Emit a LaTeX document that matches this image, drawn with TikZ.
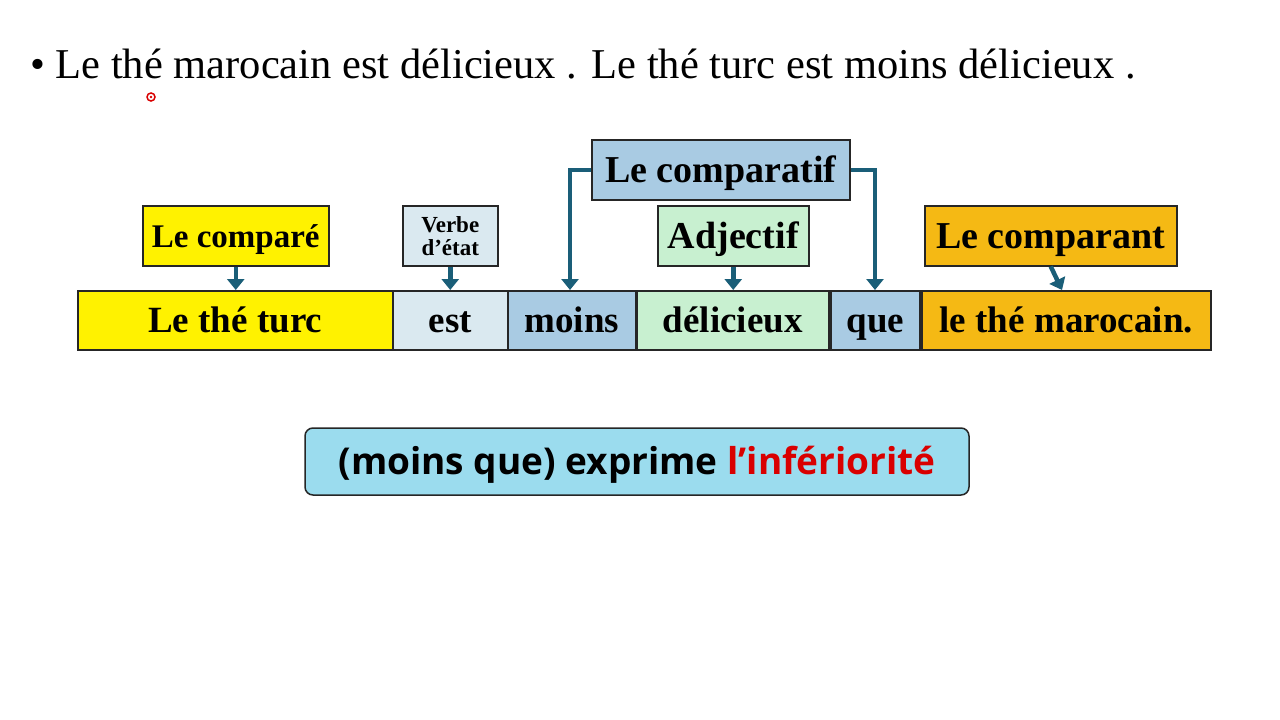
\documentclass[tikz,border=0pt]{standalone}
\usepackage{fontspec}
\setmainfont{Liberation Serif}
\newfontfamily\sansb{Open Sans}
\usetikzlibrary{arrows.meta}
\begin{document}
\begin{tikzpicture}[x=1pt,y=-1pt,
  bx/.style={draw=black!85,line width=1.5pt,inner sep=0pt,anchor=north west},
  lb/.style={anchor=base,inner sep=0pt,yshift=-12.5pt},
  arr/.style={draw={rgb,255:red,26;green,94;blue,120},line width=4.5pt,-{Triangle[length=11pt,width=17pt]}}]
\useasboundingbox (0,0) rectangle (1280,720);
\fill[white] (0,0) rectangle (1280,720);
\node[anchor=base west,font=\fontsize{42.5}{48}\selectfont,inner sep=0] (t) at (30,78) {\textbullet\ Le thé marocain est délicieux . Le thé turc est moins délicieux .};
\draw[red!85!black,line width=1.5pt] (151,97) circle (4);
\fill[red!85!black] (151,97) circle (1.3);
\def\fs{\fontsize{37}{42}\selectfont}
\node[bx,fill=yellow,minimum width=315,minimum height=59] (a) at (77,290) {};
\node[lb,font=\bfseries\fs] at (a.center) {Le thé turc};
\node[bx,fill={rgb,255:red,218;green,233;blue,240},minimum width=115,minimum height=59] (b) at (392,290) {};
\node[lb,font=\bfseries\fs] at (b.center) {est};
\node[bx,fill={rgb,255:red,169;green,203;blue,227},minimum width=128,minimum height=59] (c) at (507,290) {};
\node[lb,font=\bfseries\fs] at (c.center) {moins};
\node[bx,fill={rgb,255:red,200;green,240;blue,208},minimum width=192,minimum height=59] (d) at (636,290) {};
\node[lb,font=\bfseries\fs] at (d.center) {délicieux};
\node[bx,fill={rgb,255:red,169;green,203;blue,227},minimum width=89,minimum height=59] (e) at (830,290) {};
\node[lb,font=\bfseries\fs] at (e.center) {que};
\node[bx,fill={rgb,255:red,245;green,185;blue,20},minimum width=289,minimum height=59] (f) at (921,290) {};
\node[lb,font=\bfseries\fs] at (f.center) {le thé marocain.};
\def\fm{\fontsize{33}{38}\selectfont}
\def\fl{\fontsize{38}{42}\selectfont}
\node[bx,fill=yellow,minimum width=186,minimum height=60] (ta) at (142,205) {};
\node[lb,yshift=1pt,font=\bfseries\fm] at (ta.center) {Le comparé};
\node[bx,fill={rgb,255:red,218;green,233;blue,240},minimum width=95,minimum height=60] (tb) at (402,205) {};
\node[font=\bfseries\fontsize{23}{27}\selectfont,align=center,inner sep=0] at (tb.center) {Verbe\\[-4pt]d’état};
\node[bx,fill={rgb,255:red,200;green,240;blue,208},minimum width=151,minimum height=60] (td) at (657,205) {};
\node[lb,font=\bfseries\fl] at (td.center) {Adjectif};
\node[bx,fill={rgb,255:red,245;green,185;blue,20},minimum width=252,minimum height=60] (tf) at (924,205) {};
\node[lb,font=\bfseries\fl] at (tf.center) {Le comparant};
\node[bx,fill={rgb,255:red,169;green,203;blue,227},minimum width=258,minimum height=60] (tc) at (591,139) {};
\node[lb,font=\bfseries\fl] at (tc.center) {Le comparatif};
\draw[arr] (ta.south) -- (ta.south|-a.north);
\draw[arr] (tb.south) -- (tb.south|-b.north);
\draw[arr] (td.south) -- (td.south|-d.north);
\draw[arr] (tf.south) -- (1062,290);
\draw[arr] (tc.west) -| (570,290);
\draw[arr] (tc.east) -| (875,290);
\node[draw=black!85,line width=1.5pt,rounded corners=8pt,fill={rgb,255:red,155;green,220;blue,238},minimum width=664,minimum height=67,inner sep=0] (g) at (637,461.5) {};
\node[lb,font=\sansb\bfseries\fontsize{37}{42}\selectfont] at (g.center) {(moins que) exprime \textcolor{red!85!black}{l’infériorité}};
\end{tikzpicture}
\end{document}
